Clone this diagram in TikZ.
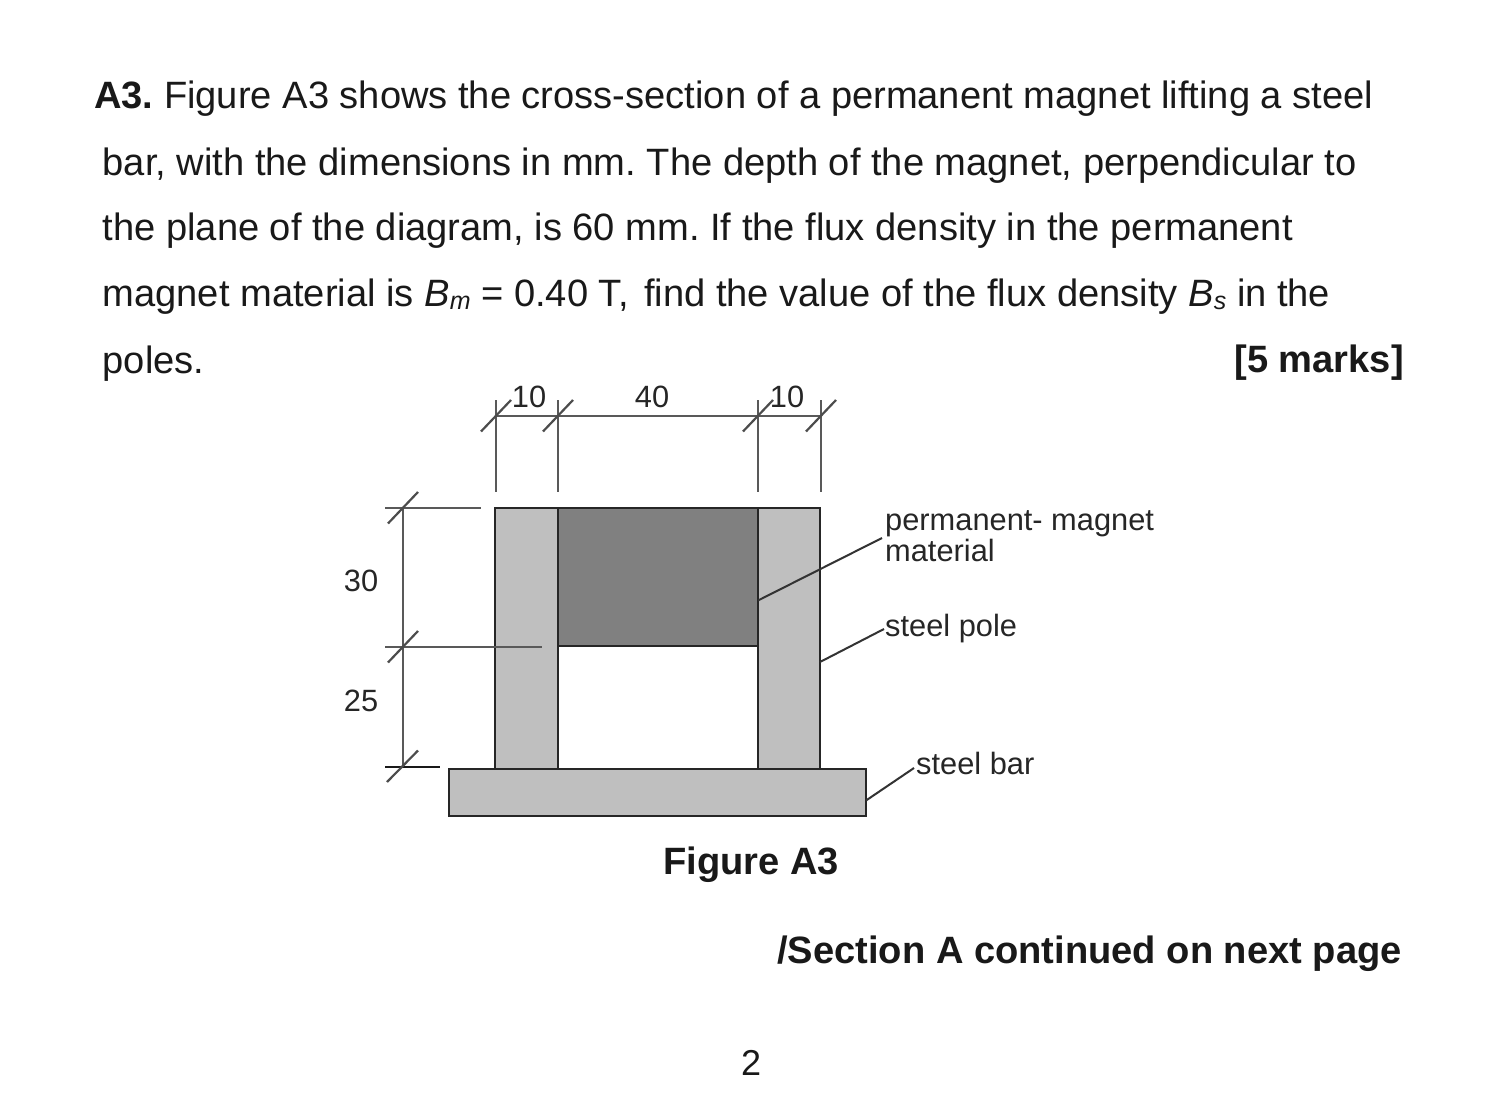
\documentclass[tikz,border=0pt]{standalone}
\usepackage{fontspec}
\setmainfont{Liberation Sans}
\frenchspacing
\newcommand{\bodyfs}{\fontsize{38.1}{42}\selectfont}
\newcommand{\labfs}{\fontsize{30.8}{32}\selectfont}
\tikzset{
  body/.style={anchor=base west,inner sep=0pt,font=\bodyfs,text=black!90},
  bodyr/.style={anchor=base east,inner sep=0pt,font=\bodyfs\bfseries,text=black!90},
  lab/.style={anchor=base west,inner sep=0pt,font=\labfs,text=black!85},
  dimn/.style={anchor=base,inner sep=0pt,font=\labfs,text=black!85},
  steel/.style={fill=black!25,draw=black!85,line width=2pt},
  magnet/.style={fill=black!50,draw=black!85,line width=2pt},
  dimline/.style={draw=black!65,line width=2.2pt},
  tick/.style={draw=black!70,line width=2.2pt},
  leader/.style={draw=black!80,line width=2pt}
}
\begin{document}
\begin{tikzpicture}[x=1pt,y=-1pt]
\useasboundingbox (0,0) rectangle (1498,1099);
\fill[white] (0,0) rectangle (1498,1099);
% text
\node[body] (l1) at (94,109) {\textbf{A3.} Figure A3 shows the cross-section of a permanent magnet lifting a steel};
\node[body] (l2) at (102.5,176) {bar, with the dimensions in mm. The depth of the magnet, perpendicular to};
\node[body] (l3) at (102.5,241) {the plane of the diagram, is 60 mm. If the flux density in the permanent};
\node[body] (l4) at (102.5,306) {magnet material is \textit{B\kern0pt\raisebox{-3pt}{\fontsize{25}{25}\selectfont m}} = 0.40 T,\kern5pt{} find the value of the flux density \textit{B\raisebox{-3pt}{\fontsize{25}{25}\selectfont s}} in the};
\node[body] (l5) at (102.5,373) {poles.};
\node[bodyr] (marks) at (1404,372.5) {[5 marks]};
% shapes
\path[steel] (495,507.5) rectangle (557.5,769);
\path[steel] (757.5,507.5) rectangle (819.5,769);
\path[magnet] (557.5,507.5) rectangle (757.5,645.5);
\path[steel] (449,769) rectangle (865.5,815.5);
% top dimension
\coordinate (ta) at (496,416);
\coordinate (tb) at (558,416);
\coordinate (tc) at (758,416);
\coordinate (td) at (821,416);
\draw[dimline] (ta) -- (td);
\foreach \p/\e in {ta/492,tb/492,tc/492,td/492}{
  \draw[dimline] (\p) ++(0,-16) -- (\p |- 0,\e);
  \draw[tick] (\p) ++(-15,15.5) -- ++(30,-31.5);
}
% left dimension
\coordinate (la) at (403,508);
\coordinate (lb) at (403,647);
\coordinate (lc) at (403,766.5);
\draw[dimline] (la) -- (lc);
\draw[dimline] (385,508) -- (481,508);
\draw[dimline] (385,647) -- (542,647);
\draw[draw=black!90,line width=2pt] (385,766.5) -- (440,766.5);
\foreach \p in {la,lb}{ \draw[tick] (\p) ++(-15,15.5) -- ++(30,-31.5); }
\draw[tick] (lc) ++(-16,15.5) -- ++(31,-31.5);
% dimension labels
\node[dimn] (d1) at (529,407.5) {10};
\node[dimn] (d2) at (652,407.5) {40};
\node[dimn] (d3) at (787,407.5) {10};
\node[dimn] (d4) at (361,591.5) {30};
\node[dimn] (d5) at (361,711.5) {25};
% leaders and labels
\node[lab] (pm1) at (885,530) {permanent- magnet};
\node[lab] (pm2) at (885,561) {material};
\node[lab] (sp) at (885,636) {steel pole};
\node[lab] (sb) at (916,774) {steel bar};
\coordinate (pmend) at (758,600.5);
\coordinate (spend) at (820,662);
\coordinate (sbend) at (866,800.5);
\coordinate (pmstart) at (882,538);
\coordinate (spstart) at (884,629);
\coordinate (sbstart) at (914,768);
\draw[leader] (pmstart) -- (pmend);
\draw[leader] (spstart) -- (spend);
\draw[leader] (sbstart) -- (sbend);
% captions
\node[anchor=base,inner sep=0pt,font=\bodyfs\bfseries,text=black!90] (cap) at (751,874) {Figure A3};
\node[bodyr] (cont) at (1402,963) {/Section A continued on next page};
\node[anchor=base,inner sep=0pt,font=\fontsize{36}{40}\selectfont,text=black!90] (pg) at (751,1075) {2};
\end{tikzpicture}
\end{document}
